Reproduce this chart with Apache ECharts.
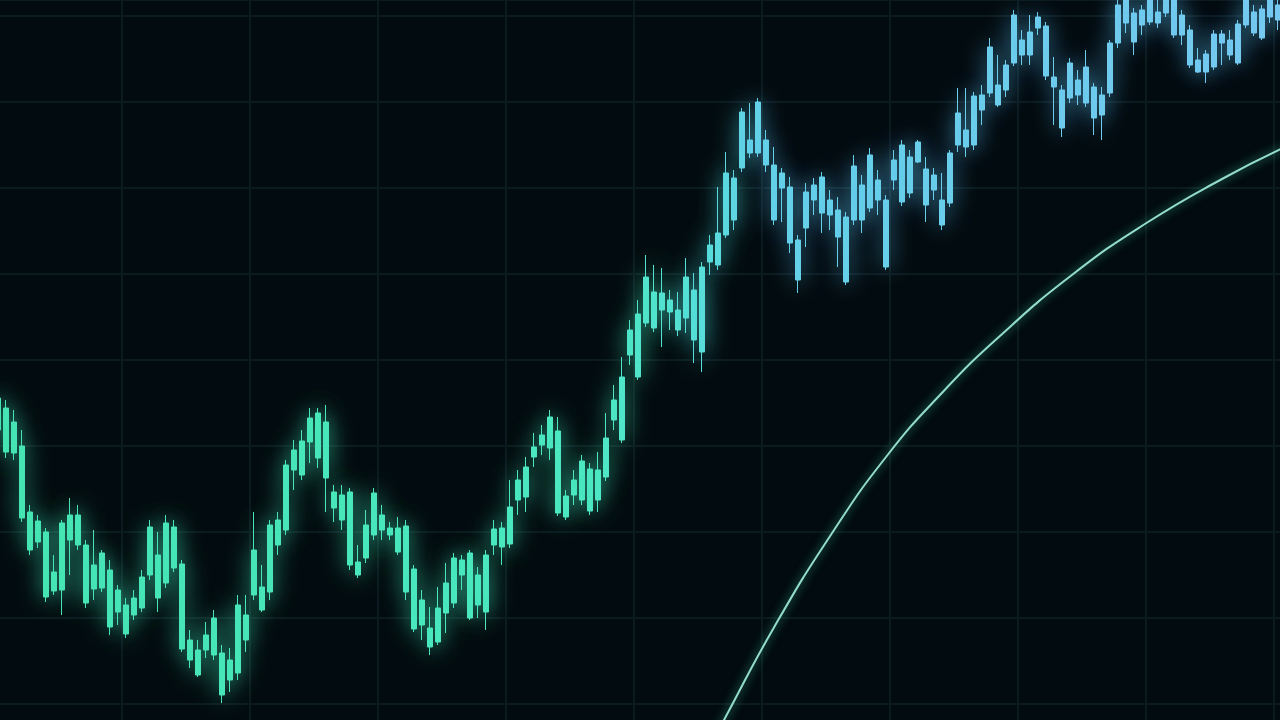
<!DOCTYPE html>
<html>
<head>
<meta charset="utf-8">
<script src="https://cdn.jsdelivr.net/npm/echarts@6/dist/echarts.min.js"></script>
<style>
html,body{margin:0;padding:0;background:#020b0f;overflow:hidden;}
#c{width:1280px;height:720px;}
</style>
</head>
<body>
<div id="c"></div>
<script>
// Candle values (price units on the y axis)
const opens = [360,338,337,272,240,248,193,199,200,250,245,187,201,202,163,178,156,175,182,215,
192,207,222,141,130,115,140,135,95,110,117,150,195,180,198,245,260,320,315,348,
332,312,282,270,225,215,232,255,260,255,238,198,161,165,143,148,177,187,215,172,
185,178,245,243,246,290,293,333,345,342,277,273,295,290,279,290,313,370,350,435,
413,467,462,480,478,460,472,450,438,528,525,555,570,622,637,637,625,570,602,547,
510,562,590,577,575,553,508,570,570,582,590,523,610,588,597,628,585,600,565,587,
645,643,645,680,697,685,700,727,735,735,762,714,703,662,692,695,687,672,675,697,
747,767,748,765,768,767,777,755,755,725,718,718,723,747,735,727,765,757,752,773,770];
const closes = [392,382,368,344,278,269,258,218,267,275,275,245,225,237,220,200,185,192,213,263,
235,267,263,226,150,140,155,172,137,130,185,175,240,203,265,270,325,340,349,372,
377,368,298,295,298,228,265,297,275,262,262,264,221,190,162,182,207,232,230,237,
215,235,261,262,283,310,323,343,355,373,359,294,310,329,321,320,352,390,413,460,
476,513,498,497,490,480,513,500,523,545,557,617,612,678,650,688,650,625,617,603,
550,598,605,613,590,580,573,624,605,635,610,590,630,645,633,648,621,615,590,637,
677,660,694,695,743,705,725,775,750,758,773,764,713,700,727,710,723,703,695,747,
785,795,777,780,795,778,795,795,775,760,730,736,756,756,750,766,795,778,781,795,785];
const lows = [350,332,330,268,235,242,188,195,175,215,240,182,190,198,155,165,152,170,178,210,
178,202,218,138,122,113,132,130,87,98,110,138,190,178,190,235,255,300,310,327,
322,278,268,260,220,212,227,250,250,250,235,190,158,150,135,145,157,182,200,170,
172,160,235,225,242,275,278,323,335,330,274,270,285,285,275,278,309,360,347,425,
410,463,458,443,460,454,457,427,418,515,520,552,560,618,632,633,618,565,568,537,
497,543,575,557,560,523,505,565,557,578,575,520,600,584,592,627,568,590,560,583,
638,633,640,665,693,683,693,724,725,725,755,710,665,653,687,685,683,655,650,693,
742,757,735,755,765,762,773,752,745,722,717,707,720,725,730,725,762,754,750,767,760];
const highs = [400,390,380,360,285,275,262,235,270,292,285,250,260,240,230,205,192,200,220,270,
258,275,270,230,160,150,168,180,145,142,195,195,278,225,270,278,330,350,360,382,
382,385,305,305,302,245,280,302,285,268,273,270,225,200,183,203,227,237,235,240,
223,240,270,268,310,320,333,357,365,380,373,300,320,335,327,338,377,405,433,470,
490,535,525,522,500,498,532,517,528,555,603,638,620,682,687,692,660,643,622,613,
555,607,612,618,600,593,578,635,615,642,620,595,640,650,640,650,633,622,617,640,
702,702,698,705,752,735,730,780,760,775,778,768,733,705,732,720,740,707,703,750,
790,798,782,785,800,790,800,798,780,765,742,740,760,760,760,770,798,785,785,798,790];
const categories = opens.map((_, i) => 'T' + (i + 1));

// Smooth trend curve (x in candle-index units, y in price units)
const trendX = [88.25, 91.25, 97.6, 104.6, 111.6, 118.6, 125.6, 134.9, 144.25, 153.5, 161.4];
const trendY = [25, 70, 164, 255, 334, 398, 453, 516, 568, 611, 643];

// glow colour changes from green (left) to blue (right)
function glowFor(i) {
  if (i < 84) return 'rgba(60,225,180,0.75)';
  if (i < 94) return 'rgba(70,215,215,0.75)';
  return 'rgba(90,190,240,0.7)';
}
const candleData = opens.map((o, i) => ({
  value: [o, closes[i], lows[i], highs[i]],
  itemStyle: {shadowColor: glowFor(i)}
}));
const trendData = trendX.map((x, i) => [x, trendY[i]]);

const grad = {
  type: 'linear', x: 0, y: 0, x2: 1280, y2: 0, global: true,
  colorStops: [
    {offset: 0, color: '#45e4b2'},
    {offset: 0.45, color: '#4ce8c2'},
    {offset: 0.53, color: '#55e2d3'},
    {offset: 0.59, color: '#62d2e8'},
    {offset: 1, color: '#78c8f0'}
  ]
};
const gridLine = {show: true, lineStyle: {color: '#0b1a1f', width: 2}};

const chart = echarts.init(document.getElementById('c'), null, {renderer: 'canvas'});
chart.setOption({
  backgroundColor: '#020b0f',
  animation: false,
  grid: {left: -6, right: -2, top: 0, bottom: -70, outerBoundsMode: 'none'},
  xAxis: [
    {type: 'category', data: categories, boundaryGap: true, show: false},
    {type: 'value', min: 0, max: 161, interval: 16,
     axisLine: {show: false}, axisTick: {show: false}, axisLabel: {show: false},
     splitLine: gridLine}
  ],
  yAxis: {type: 'value', min: 0, max: 790, interval: 86,
    axisLine: {show: false}, axisTick: {show: false}, axisLabel: {show: false},
    splitLine: gridLine},
  series: [
    {type: 'line', xAxisIndex: 1, data: trendData, smooth: true, symbol: 'none', z: 1,
     lineStyle: {color: '#93dcca', width: 2, shadowBlur: 10, shadowColor: 'rgba(70,220,190,0.8)'}},
    {type: 'candlestick', xAxisIndex: 0, data: candleData, barWidth: 6, z: 2,
     itemStyle: {color: grad, color0: grad, borderColor: grad, borderColor0: grad,
       borderWidth: 1, shadowBlur: 22, shadowColor: 'rgba(60,225,190,0.75)'}}
  ]
});
</script>
</body>
</html>
